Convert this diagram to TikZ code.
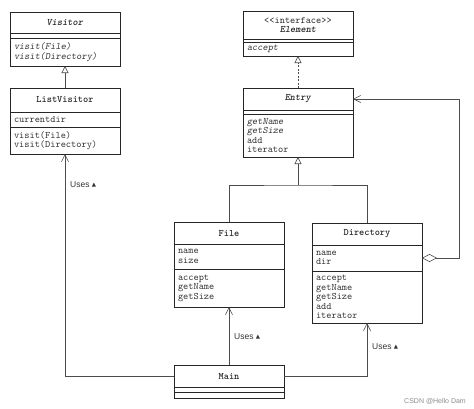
\documentclass[tikz,border=0pt]{standalone}
\usepackage{fontspec}
\setsansfont{Liberation Sans}
\newfontfamily\symfont{DejaVu Sans}
\usetikzlibrary{arrows.meta,positioning}

\begin{document}
\begin{tikzpicture}
[x=1pt,y=-1pt,
 cname/.style={draw=black!85,line width=0.6pt,outer sep=0pt,inner sep=0pt,minimum width=110pt,minimum height=22pt,anchor=north west,align=center,text=black!85,font=\fontsize{9.9}{9}\selectfont\ttfamily\bfseries},
 cpart/.style={draw=black!85,line width=0.6pt,outer sep=0pt,inner xsep=4pt,inner ysep=0pt,text width=102pt,align=left,text=black!80,font=\fontsize{9.9}{9.5}\selectfont\ttfamily},
 cempty/.style={draw=black!85,line width=0.6pt,outer sep=0pt,inner sep=0pt,minimum width=110pt},
 link/.style={draw=black!70,line width=0.6pt},
 inherit/.style={link,-{Triangle[open,length=7pt,width=7pt]}},
 realize/.style={inherit,dash pattern=on 2pt off 1.5pt},
 uses/.style={link,-{Straight Barb[length=7pt,width=7pt]}},
 aggr/.style={link,{Diamond[open,length=15pt,width=8pt]}-{Straight Barb[length=7pt,width=7pt]}},
 usestext/.style={anchor=west,inner sep=0pt,text=black!80,font=\fontsize{8.5}{9}\selectfont\sffamily}]

\useasboundingbox (0,0) rectangle (474,408);

% Visitor
\node[cname] (visitorN) at (10,12) [minimum height=21pt] {\textsl{Visitor}};
\node[cempty,minimum height=5pt,below=0pt of visitorN] (visitorA) {};
\node[cpart,minimum height=28pt,below=0pt of visitorA] (visitorM) {\textsl{visit(File)}\\\textsl{visit(Directory)}};

% ListVisitor
\node[cname] (listN) at (10,88) [minimum height=24pt] {ListVisitor};
\node[cpart,minimum height=15pt,below=0pt of listN] (listA) {currentdir};
\node[cpart,minimum height=27pt,below=0pt of listA] (listM) {visit(File)\\visit(Directory)};

% Element
\node[cname] (elementN) at (243,11) [minimum height=28pt] {{\mdseries <{}<interface>{}>}\\\textsl{Element}};
\node[cempty,minimum height=3pt,below=0pt of elementN] (elementA) {};
\node[cpart,minimum height=14pt,below=0pt of elementA] (elementM) {\textsl{accept}};

% Entry
\node[cname] (entryN) at (243,88) {\textsl{Entry}};
\node[cempty,minimum height=4pt,below=0pt of entryN] (entryA) {};
\node[cpart,minimum height=43pt,below=0pt of entryA] (entryM) {\textsl{getName}\\\textsl{getSize}\\add\\iterator};

% File
\node[cname] (fileN) at (174,222) {File};
\node[cpart,minimum height=25pt,below=0pt of fileN] (fileA) {name\\size};
\node[cpart,minimum height=38pt,below=0pt of fileA] (fileM) {accept\\getName\\getSize};

% Directory
\node[cname] (dirN) at (312,223) {Directory};
\node[cpart,minimum height=26pt,below=0pt of dirN] (dirA) {name\\dir};
\node[cpart,minimum height=52pt,below=0pt of dirA] (dirM) {accept\\getName\\getSize\\add\\iterator};

% Main
\node[cname] (mainN) at (174,365) {Main};
\node[cempty,minimum height=5pt,below=0pt of mainN] (mainA) {};
\node[cempty,minimum height=6pt,below=0pt of mainA] (mainM) {};

% inheritance
\draw[inherit] (listN) -- (visitorM);
\draw[realize] (entryN) -- (elementM);

\coordinate (fork) at (298,185);
\draw[link] (fileN.north) |- (fork) -| (dirN.north);
\draw[inherit] (fork) -- (entryM);

% aggregation
\coordinate (aggcorner) at (459,258);
\draw[aggr] (dirA.east) -- (aggcorner) |- (entryN.east);

% uses
\draw[uses] (mainN) -- (fileM);
\draw[uses] (mainN.east) -| (dirM.south);
\draw[uses] (mainN.west) -| (listM.south);

\node[usestext] (usesList) at (70,185) {Uses \raisebox{1pt}{\symfont\fontsize{5.5}{5}\selectfont ▲}};
\node[usestext] (usesFile) at (234,337) {Uses \raisebox{1pt}{\symfont\fontsize{5.5}{5}\selectfont ▲}};
\node[usestext] (usesDir) at (372,347) {Uses \raisebox{1pt}{\symfont\fontsize{5.5}{5}\selectfont ▲}};

\node[anchor=east,inner sep=0pt,text=black!45,font=\fontsize{7}{8}\selectfont\sffamily] (mark) at (466,401) {CSDN @Hello Dam};
\end{tikzpicture}
\end{document}
